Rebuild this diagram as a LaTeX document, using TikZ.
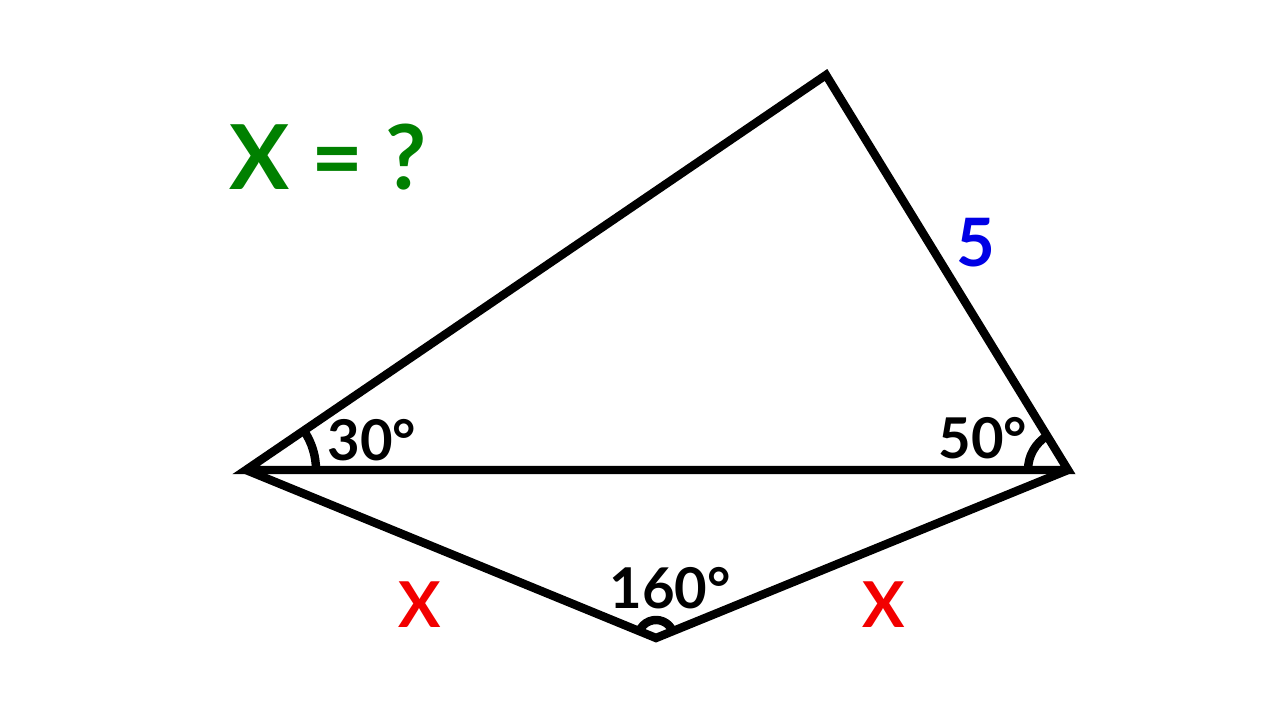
\documentclass[tikz,border=0pt]{standalone}
\usepackage{fontspec}
\setmainfont{Lato}
\begin{document}
\begin{tikzpicture}
	\tikzstyle{myline}=[line width=2.4pt]
	\tikzstyle{mygreen}=[green!50!black]
	\tikzstyle{myred}=[red!95!black]
	\tikzstyle{myblue}=[blue!90!black]
	\tikzstyle{mylabel}=[font=\bfseries\fontsize{16}{18}\selectfont]
	\useasboundingbox (0,0) rectangle (12.8,7.2);

	\coordinate (A) at (2.46,2.50);
	\coordinate (B) at (10.68,2.50);
	\coordinate (C) at (8.26,6.45);
	\coordinate (D) at (6.56,0.82);

	\draw[myline] (A) -- (C) -- (B) -- cycle;
	\draw[myline] (A) -- (D) -- (B);

	% angle marks
	\draw[myline] ([shift={(0:0.70)}]A) arc (0:34.3:0.70);
	\draw[myline] ([shift={(121.5:0.40)}]B) arc (121.5:180:0.40);
	\draw[myline] ([shift={(22.2:0.18)}]D) arc (22.2:157.7:0.18);

	\node[mylabel] (a30) at (3.72,2.80) {30°};
	\node[mylabel] (b50) at (9.83,2.82) {50°};
	\node[mylabel] (d160) at (6.70,1.32) {160°};

	\node[mylabel,myred,font=\bfseries\fontsize{18}{20}\selectfont] (xl) at (4.20,1.15) {X};
	\node[mylabel,myred,font=\bfseries\fontsize{18}{20}\selectfont] (xr) at (8.84,1.15) {X};
	\node[mylabel,myblue,font=\bfseries\fontsize{19}{21}\selectfont] (five) at (9.76,4.77) {5};

	\node[mygreen,font=\bfseries\fontsize{25.5}{30}\selectfont] (q) at (3.28,5.63) {X = ?};
\end{tikzpicture}
\end{document}
